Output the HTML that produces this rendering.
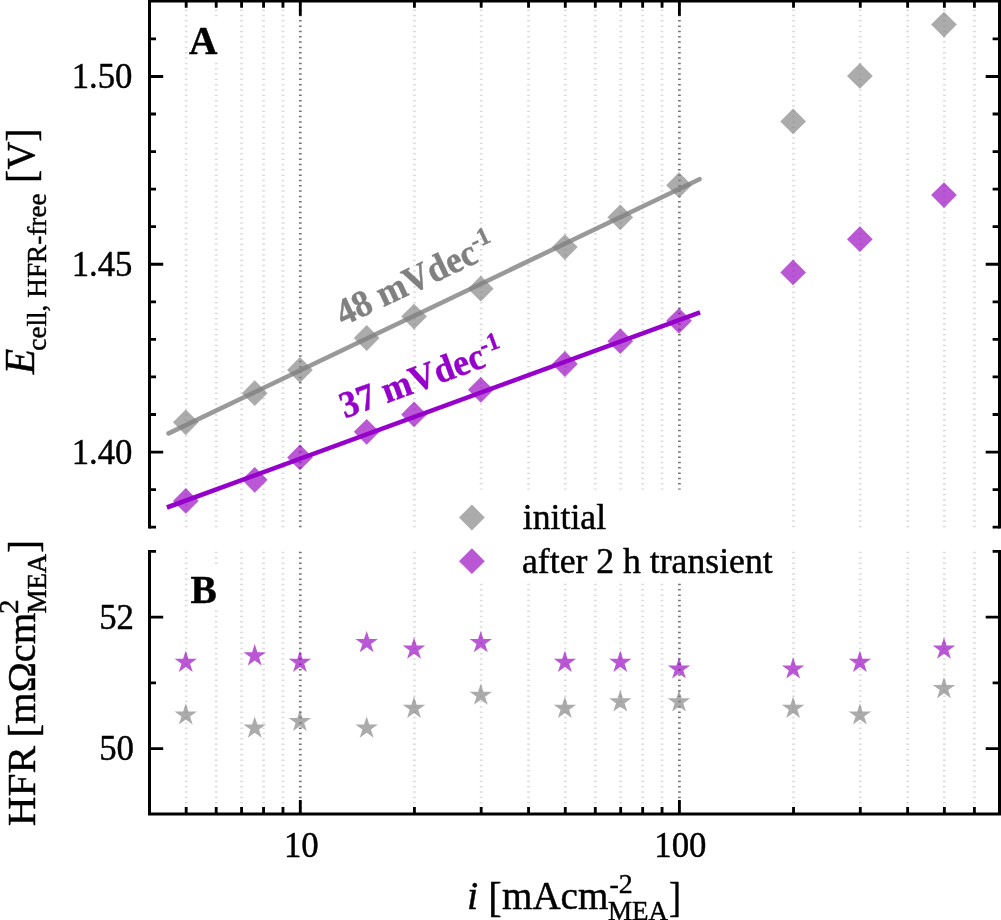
<!DOCTYPE html>
<html lang="en"><head><meta charset="utf-8"><title>Tafel plot</title>
<style>html,body{margin:0;padding:0;background:#fff}body{width:1001px;height:920px;overflow:hidden}svg{display:block}text{font-family:"Liberation Serif","Times New Roman",serif;fill:#000;stroke:#000;stroke-width:0.45px;stroke-linejoin:round}</style></head><body>
<svg width="1001" height="920" viewBox="0 0 1001 920">
<rect x="0" y="0" width="1001" height="920" fill="#fff"/>
<g id="grid">
<line x1="186.18" y1="4.09" x2="186.18" y2="527.66" stroke="#dbdbdb" stroke-width="2.7" stroke-dasharray="1.5 3.822"/>
<line x1="186.18" y1="551.85" x2="186.18" y2="813.05" stroke="#dbdbdb" stroke-width="2.7" stroke-dasharray="1.5 3.822"/>
<line x1="216.20" y1="4.09" x2="216.20" y2="527.66" stroke="#dbdbdb" stroke-width="2.7" stroke-dasharray="1.5 3.822"/>
<line x1="216.20" y1="551.85" x2="216.20" y2="813.05" stroke="#dbdbdb" stroke-width="2.7" stroke-dasharray="1.5 3.822"/>
<line x1="241.58" y1="4.09" x2="241.58" y2="527.66" stroke="#dbdbdb" stroke-width="2.7" stroke-dasharray="1.5 3.822"/>
<line x1="241.58" y1="551.85" x2="241.58" y2="813.05" stroke="#dbdbdb" stroke-width="2.7" stroke-dasharray="1.5 3.822"/>
<line x1="263.56" y1="4.09" x2="263.56" y2="527.66" stroke="#dbdbdb" stroke-width="2.7" stroke-dasharray="1.5 3.822"/>
<line x1="263.56" y1="551.85" x2="263.56" y2="813.05" stroke="#dbdbdb" stroke-width="2.7" stroke-dasharray="1.5 3.822"/>
<line x1="282.95" y1="4.09" x2="282.95" y2="527.66" stroke="#dbdbdb" stroke-width="2.7" stroke-dasharray="1.5 3.822"/>
<line x1="282.95" y1="551.85" x2="282.95" y2="813.05" stroke="#dbdbdb" stroke-width="2.7" stroke-dasharray="1.5 3.822"/>
<line x1="414.42" y1="4.09" x2="414.42" y2="527.66" stroke="#dbdbdb" stroke-width="2.7" stroke-dasharray="1.5 3.822"/>
<line x1="414.42" y1="551.85" x2="414.42" y2="813.05" stroke="#dbdbdb" stroke-width="2.7" stroke-dasharray="1.5 3.822"/>
<line x1="481.18" y1="4.09" x2="481.18" y2="527.66" stroke="#dbdbdb" stroke-width="2.7" stroke-dasharray="1.5 3.822"/>
<line x1="481.18" y1="551.85" x2="481.18" y2="813.05" stroke="#dbdbdb" stroke-width="2.7" stroke-dasharray="1.5 3.822"/>
<line x1="528.54" y1="4.09" x2="528.54" y2="527.66" stroke="#dbdbdb" stroke-width="2.7" stroke-dasharray="1.5 3.822"/>
<line x1="528.54" y1="551.85" x2="528.54" y2="813.05" stroke="#dbdbdb" stroke-width="2.7" stroke-dasharray="1.5 3.822"/>
<line x1="565.28" y1="4.09" x2="565.28" y2="527.66" stroke="#dbdbdb" stroke-width="2.7" stroke-dasharray="1.5 3.822"/>
<line x1="565.28" y1="551.85" x2="565.28" y2="813.05" stroke="#dbdbdb" stroke-width="2.7" stroke-dasharray="1.5 3.822"/>
<line x1="595.30" y1="4.09" x2="595.30" y2="527.66" stroke="#dbdbdb" stroke-width="2.7" stroke-dasharray="1.5 3.822"/>
<line x1="595.30" y1="551.85" x2="595.30" y2="813.05" stroke="#dbdbdb" stroke-width="2.7" stroke-dasharray="1.5 3.822"/>
<line x1="620.68" y1="4.09" x2="620.68" y2="527.66" stroke="#dbdbdb" stroke-width="2.7" stroke-dasharray="1.5 3.822"/>
<line x1="620.68" y1="551.85" x2="620.68" y2="813.05" stroke="#dbdbdb" stroke-width="2.7" stroke-dasharray="1.5 3.822"/>
<line x1="642.66" y1="4.09" x2="642.66" y2="527.66" stroke="#dbdbdb" stroke-width="2.7" stroke-dasharray="1.5 3.822"/>
<line x1="642.66" y1="551.85" x2="642.66" y2="813.05" stroke="#dbdbdb" stroke-width="2.7" stroke-dasharray="1.5 3.822"/>
<line x1="662.05" y1="4.09" x2="662.05" y2="527.66" stroke="#dbdbdb" stroke-width="2.7" stroke-dasharray="1.5 3.822"/>
<line x1="662.05" y1="551.85" x2="662.05" y2="813.05" stroke="#dbdbdb" stroke-width="2.7" stroke-dasharray="1.5 3.822"/>
<line x1="793.52" y1="4.09" x2="793.52" y2="527.66" stroke="#dbdbdb" stroke-width="2.7" stroke-dasharray="1.5 3.822"/>
<line x1="793.52" y1="551.85" x2="793.52" y2="813.05" stroke="#dbdbdb" stroke-width="2.7" stroke-dasharray="1.5 3.822"/>
<line x1="860.28" y1="4.09" x2="860.28" y2="527.66" stroke="#dbdbdb" stroke-width="2.7" stroke-dasharray="1.5 3.822"/>
<line x1="860.28" y1="551.85" x2="860.28" y2="813.05" stroke="#dbdbdb" stroke-width="2.7" stroke-dasharray="1.5 3.822"/>
<line x1="907.64" y1="4.09" x2="907.64" y2="527.66" stroke="#dbdbdb" stroke-width="2.7" stroke-dasharray="1.5 3.822"/>
<line x1="907.64" y1="551.85" x2="907.64" y2="813.05" stroke="#dbdbdb" stroke-width="2.7" stroke-dasharray="1.5 3.822"/>
<line x1="944.38" y1="4.09" x2="944.38" y2="527.66" stroke="#dbdbdb" stroke-width="2.7" stroke-dasharray="1.5 3.822"/>
<line x1="944.38" y1="551.85" x2="944.38" y2="813.05" stroke="#dbdbdb" stroke-width="2.7" stroke-dasharray="1.5 3.822"/>
<line x1="974.40" y1="4.09" x2="974.40" y2="527.66" stroke="#dbdbdb" stroke-width="2.7" stroke-dasharray="1.5 3.822"/>
<line x1="974.40" y1="551.85" x2="974.40" y2="813.05" stroke="#dbdbdb" stroke-width="2.7" stroke-dasharray="1.5 3.822"/>
<line x1="300.30" y1="4.09" x2="300.30" y2="527.66" stroke="#727272" stroke-width="2.7" stroke-dasharray="1.5 3.822"/>
<line x1="300.30" y1="551.85" x2="300.30" y2="813.05" stroke="#727272" stroke-width="2.7" stroke-dasharray="1.5 3.822"/>
<line x1="679.40" y1="4.09" x2="679.40" y2="527.66" stroke="#727272" stroke-width="2.7" stroke-dasharray="1.5 3.822"/>
<line x1="679.40" y1="551.85" x2="679.40" y2="813.05" stroke="#727272" stroke-width="2.7" stroke-dasharray="1.5 3.822"/>
</g>
<rect x="422" y="489.6" width="369" height="91.4" fill="#fff"/>
<rect x="189" y="20" width="30" height="42" fill="#fff"/>
<rect x="189" y="565" width="30" height="44" fill="#fff"/>
<g transform="translate(343.0 326.3) rotate(-25.4)"><text transform="scale(0.95 1)" font-size="37.5" font-weight="bold" style="fill:#808080;stroke:#808080">48 mVdec<tspan dy="-13" font-size="25">-1</tspan></text></g>
<g transform="translate(345.0 418.5) rotate(-20.2)"><text transform="scale(0.95 1)" font-size="37.5" font-weight="bold" style="fill:#9600CB;stroke:#9600CB">37 mVdec<tspan dy="-13" font-size="25">-1</tspan></text></g>
<g id="panelA">
<path d="M185.8 409.4L198.6 422.3L185.8 435.2L172.9 422.3Z" fill="rgba(128,128,128,0.66)"/>
<path d="M254.7 380.3L267.6 393.2L254.7 406.1L241.9 393.2Z" fill="rgba(128,128,128,0.66)"/>
<path d="M299.9 357.1L312.8 370.0L299.9 382.9L287.1 370.0Z" fill="rgba(128,128,128,0.66)"/>
<path d="M366.7 325.1L379.5 338.0L366.7 350.9L353.8 338.0Z" fill="rgba(128,128,128,0.66)"/>
<path d="M414.0 303.8L426.9 316.6L414.0 329.5L401.2 316.6Z" fill="rgba(128,128,128,0.66)"/>
<path d="M480.8 275.8L493.6 288.7L480.8 301.6L467.9 288.7Z" fill="rgba(128,128,128,0.66)"/>
<path d="M564.9 234.2L577.7 247.0L564.9 259.9L552.0 247.0Z" fill="rgba(128,128,128,0.66)"/>
<path d="M620.3 204.5L633.1 217.3L620.3 230.2L607.4 217.3Z" fill="rgba(128,128,128,0.66)"/>
<path d="M679.0 172.3L691.9 185.2L679.0 198.0L666.2 185.2Z" fill="rgba(128,128,128,0.66)"/>
<path d="M793.1 108.6L806.0 121.4L793.1 134.2L780.3 121.4Z" fill="rgba(128,128,128,0.66)"/>
<path d="M859.9 63.1L872.7 76.0L859.9 88.8L847.0 76.0Z" fill="rgba(128,128,128,0.66)"/>
<path d="M944.0 11.7L956.8 24.5L944.0 37.4L931.1 24.5Z" fill="rgba(128,128,128,0.66)"/>
<path d="M185.8 488.0L198.6 500.9L185.8 513.8L172.9 500.9Z" fill="rgba(150,0,192,0.66)"/>
<path d="M254.7 466.9L267.6 479.8L254.7 492.7L241.9 479.8Z" fill="rgba(150,0,192,0.66)"/>
<path d="M299.9 444.5L312.8 457.4L299.9 470.2L287.1 457.4Z" fill="rgba(150,0,192,0.66)"/>
<path d="M366.7 418.9L379.5 431.8L366.7 444.7L353.8 431.8Z" fill="rgba(150,0,192,0.66)"/>
<path d="M414.0 401.5L426.9 414.4L414.0 427.2L401.2 414.4Z" fill="rgba(150,0,192,0.66)"/>
<path d="M480.8 376.9L493.6 389.8L480.8 402.7L467.9 389.8Z" fill="rgba(150,0,192,0.66)"/>
<path d="M564.9 351.1L577.7 364.0L564.9 376.9L552.0 364.0Z" fill="rgba(150,0,192,0.66)"/>
<path d="M620.3 328.3L633.1 341.2L620.3 354.1L607.4 341.2Z" fill="rgba(150,0,192,0.66)"/>
<path d="M679.0 307.9L691.9 320.8L679.0 333.7L666.2 320.8Z" fill="rgba(150,0,192,0.66)"/>
<path d="M793.1 259.5L806.0 272.4L793.1 285.2L780.3 272.4Z" fill="rgba(150,0,192,0.66)"/>
<path d="M859.9 226.3L872.7 239.2L859.9 252.0L847.0 239.2Z" fill="rgba(150,0,192,0.66)"/>
<path d="M944.0 182.2L956.8 195.1L944.0 207.9L931.1 195.1Z" fill="rgba(150,0,192,0.66)"/>
<line x1="168.6" y1="433.4" x2="699.5" y2="179.2" stroke="rgba(128,128,128,0.8)" stroke-width="4.6" stroke-linecap="round"/>
<line x1="166.9" y1="507.5" x2="700.1" y2="312.3" stroke="#9600CB" stroke-width="4.6"/>
</g>
<g id="panelB">
<polygon points="185.8,703.2 188.4,711.4 197.0,711.4 190.1,716.4 192.7,724.6 185.8,719.5 178.8,724.6 181.5,716.4 174.6,711.4 183.1,711.4" fill="rgba(128,128,128,0.66)"/>
<polygon points="254.7,716.4 257.4,724.5 265.9,724.5 259.0,729.6 261.7,737.7 254.7,732.7 247.8,737.7 250.4,729.6 243.5,724.5 252.1,724.5" fill="rgba(128,128,128,0.66)"/>
<polygon points="299.9,709.8 302.5,718.0 311.1,718.0 304.2,723.0 306.8,731.1 299.9,726.1 293.0,731.1 295.6,723.0 288.7,718.0 297.3,718.0" fill="rgba(128,128,128,0.66)"/>
<polygon points="366.7,716.4 369.3,724.5 377.9,724.5 370.9,729.6 373.6,737.7 366.7,732.7 359.7,737.7 362.4,729.6 355.4,724.5 364.0,724.5" fill="rgba(128,128,128,0.66)"/>
<polygon points="414.0,696.6 416.7,704.8 425.2,704.8 418.3,709.8 421.0,718.0 414.0,713.0 407.1,718.0 409.7,709.8 402.8,704.8 411.4,704.8" fill="rgba(128,128,128,0.66)"/>
<polygon points="480.8,683.5 483.4,691.7 492.0,691.7 485.1,696.7 487.7,704.8 480.8,699.8 473.8,704.8 476.5,696.7 469.6,691.7 478.1,691.7" fill="rgba(128,128,128,0.66)"/>
<polygon points="564.9,696.6 567.5,704.8 576.1,704.8 569.2,709.8 571.8,718.0 564.9,713.0 557.9,718.0 560.6,709.8 553.7,704.8 562.2,704.8" fill="rgba(128,128,128,0.66)"/>
<polygon points="620.3,690.1 622.9,698.2 631.5,698.2 624.6,703.3 627.2,711.4 620.3,706.4 613.3,711.4 616.0,703.3 609.1,698.2 617.6,698.2" fill="rgba(128,128,128,0.66)"/>
<polygon points="679.0,690.1 681.6,698.2 690.2,698.2 683.3,703.3 685.9,711.4 679.0,706.4 672.1,711.4 674.7,703.3 667.8,698.2 676.4,698.2" fill="rgba(128,128,128,0.66)"/>
<polygon points="793.1,696.6 795.8,704.8 804.3,704.8 797.4,709.8 800.1,718.0 793.1,713.0 786.2,718.0 788.8,709.8 781.9,704.8 790.5,704.8" fill="rgba(128,128,128,0.66)"/>
<polygon points="859.9,703.2 862.5,711.4 871.1,711.4 864.2,716.4 866.8,724.6 859.9,719.5 852.9,724.6 855.6,716.4 848.7,711.4 857.2,711.4" fill="rgba(128,128,128,0.66)"/>
<polygon points="944.0,676.9 946.6,685.1 955.2,685.1 948.3,690.1 950.9,698.3 944.0,693.2 937.0,698.3 939.7,690.1 932.8,685.1 941.3,685.1" fill="rgba(128,128,128,0.66)"/>
<polygon points="185.8,650.6 188.4,658.8 197.0,658.8 190.1,663.8 192.7,672.0 185.8,666.9 178.8,672.0 181.5,663.8 174.6,658.8 183.1,658.8" fill="rgba(150,0,192,0.66)"/>
<polygon points="254.7,644.1 257.4,652.2 265.9,652.2 259.0,657.2 261.7,665.4 254.7,660.4 247.8,665.4 250.4,657.2 243.5,652.2 252.1,652.2" fill="rgba(150,0,192,0.66)"/>
<polygon points="299.9,650.6 302.5,658.8 311.1,658.8 304.2,663.8 306.8,672.0 299.9,666.9 293.0,672.0 295.6,663.8 288.7,658.8 297.3,658.8" fill="rgba(150,0,192,0.66)"/>
<polygon points="366.7,630.9 369.3,639.1 377.9,639.1 370.9,644.1 373.6,652.2 366.7,647.2 359.7,652.2 362.4,644.1 355.4,639.1 364.0,639.1" fill="rgba(150,0,192,0.66)"/>
<polygon points="414.0,637.5 416.7,645.6 425.2,645.6 418.3,650.7 421.0,658.8 414.0,653.8 407.1,658.8 409.7,650.7 402.8,645.6 411.4,645.6" fill="rgba(150,0,192,0.66)"/>
<polygon points="480.8,630.9 483.4,639.1 492.0,639.1 485.1,644.1 487.7,652.2 480.8,647.2 473.8,652.2 476.5,644.1 469.6,639.1 478.1,639.1" fill="rgba(150,0,192,0.66)"/>
<polygon points="564.9,650.6 567.5,658.8 576.1,658.8 569.2,663.8 571.8,672.0 564.9,666.9 557.9,672.0 560.6,663.8 553.7,658.8 562.2,658.8" fill="rgba(150,0,192,0.66)"/>
<polygon points="620.3,650.6 622.9,658.8 631.5,658.8 624.6,663.8 627.2,672.0 620.3,666.9 613.3,672.0 616.0,663.8 609.1,658.8 617.6,658.8" fill="rgba(150,0,192,0.66)"/>
<polygon points="679.0,657.2 681.6,665.4 690.2,665.4 683.3,670.4 685.9,678.5 679.0,673.5 672.1,678.5 674.7,670.4 667.8,665.4 676.4,665.4" fill="rgba(150,0,192,0.66)"/>
<polygon points="793.1,657.2 795.8,665.4 804.3,665.4 797.4,670.4 800.1,678.5 793.1,673.5 786.2,678.5 788.8,670.4 781.9,665.4 790.5,665.4" fill="rgba(150,0,192,0.66)"/>
<polygon points="859.9,650.6 862.5,658.8 871.1,658.8 864.2,663.8 866.8,672.0 859.9,666.9 852.9,672.0 855.6,663.8 848.7,658.8 857.2,658.8" fill="rgba(150,0,192,0.66)"/>
<polygon points="944.0,637.5 946.6,645.6 955.2,645.6 948.3,650.7 950.9,658.8 944.0,653.8 937.0,658.8 939.7,650.7 932.8,645.6 941.3,645.6" fill="rgba(150,0,192,0.66)"/>
</g>
<g id="axes" stroke="#000" fill="none" stroke-linecap="butt">
<path d="M149.5 528.58V1.1H999.5V528.58" stroke-width="3.0" stroke-linejoin="miter"/>
<path d="M149.5 549.93V814.05H999.5V549.93" stroke-width="3.0" stroke-linejoin="miter"/>
<path d="M186.18 1.1v6.7M186.18 814.05v-7.05M216.20 1.1v6.7M216.20 814.05v-7.05M241.58 1.1v6.7M241.58 814.05v-7.05M263.56 1.1v6.7M263.56 814.05v-7.05M282.95 1.1v6.7M282.95 814.05v-7.05M414.42 1.1v6.7M414.42 814.05v-7.05M481.18 1.1v6.7M481.18 814.05v-7.05M528.54 1.1v6.7M528.54 814.05v-7.05M565.28 1.1v6.7M565.28 814.05v-7.05M595.30 1.1v6.7M595.30 814.05v-7.05M620.68 1.1v6.7M620.68 814.05v-7.05M642.66 1.1v6.7M642.66 814.05v-7.05M662.05 1.1v6.7M662.05 814.05v-7.05M793.52 1.1v6.7M793.52 814.05v-7.05M860.28 1.1v6.7M860.28 814.05v-7.05M907.64 1.1v6.7M907.64 814.05v-7.05M944.38 1.1v6.7M944.38 814.05v-7.05M974.40 1.1v6.7M974.40 814.05v-7.05M300.30 1.1v14.6M300.30 814.05v-14.05M679.40 1.1v14.6M679.40 814.05v-14.05M149.5 527.17h6.5M999.5 527.17h-6.9M149.5 489.61h6.5M999.5 489.61h-6.9M149.5 452.05h13.7M999.5 452.05h-13.8M149.5 414.49h6.5M999.5 414.49h-6.9M149.5 376.93h6.5M999.5 376.93h-6.9M149.5 339.37h6.5M999.5 339.37h-6.9M149.5 301.81h6.5M999.5 301.81h-6.9M149.5 264.25h13.7M999.5 264.25h-13.8M149.5 226.69h6.5M999.5 226.69h-6.9M149.5 189.13h6.5M999.5 189.13h-6.9M149.5 151.57h6.5M999.5 151.57h-6.9M149.5 114.01h6.5M999.5 114.01h-6.9M149.5 76.45h13.7M999.5 76.45h-13.8M149.5 38.89h6.5M999.5 38.89h-6.9M149.5 748.60h13.7M999.5 748.60h-13.8M149.5 682.85h6.5M999.5 682.85h-6.9M149.5 617.10h13.7M999.5 617.10h-13.8M149.5 551.35h6.5M999.5 551.35h-6.9" stroke-width="2.85"/>
</g>
<text transform="translate(132.5 88.0) scale(0.95 1)" font-size="36.6" text-anchor="end" >1.50</text>
<text transform="translate(132.5 275.8) scale(0.95 1)" font-size="36.6" text-anchor="end" >1.45</text>
<text transform="translate(132.5 463.6) scale(0.95 1)" font-size="36.6" text-anchor="end" >1.40</text>
<text transform="translate(134.0 628.5) scale(0.95 1)" font-size="36.6" text-anchor="end" >52</text>
<text transform="translate(134.0 760.0) scale(0.95 1)" font-size="36.6" text-anchor="end" >50</text>
<text transform="translate(301.3 856.9) scale(0.95 1)" font-size="36.6" text-anchor="middle" >10</text>
<text transform="translate(680.4 856.9) scale(0.95 1)" font-size="36.6" text-anchor="middle" >100</text>
<text transform="translate(189 54.3) scale(0.96 1)" font-size="41" text-anchor="start" font-weight="bold">A</text>
<text transform="translate(190.5 602.6) scale(0.96 1)" font-size="41" text-anchor="start" font-weight="bold">B</text>
<path d="M471.9 504.6L484.8 517.5L471.9 530.4L459.0 517.5Z" fill="rgba(128,128,128,0.66)"/>
<path d="M471.9 548.3L484.8 561.2L471.9 574.1L459.0 561.2Z" fill="rgba(150,0,192,0.66)"/>
<text transform="translate(522.8 528.8)" font-size="35.7" text-anchor="start" >initial</text>
<text transform="translate(522.0 573.3)" font-size="35.7" text-anchor="start" >after 2 h transient</text>
<text transform="translate(33.5 374.3) rotate(-90)" font-size="41.5" text-anchor="start" font-style="italic">E</text>
<text transform="translate(45.6 350.7) rotate(-90) scale(0.973 1)" font-size="28" text-anchor="start" >cell, HFR-free</text>
<text transform="translate(35.1 183.0) rotate(-90) scale(0.953 1)" font-size="41.5" text-anchor="start" >[</text>
<text transform="translate(33.5 169.6) rotate(-90) scale(0.953 1)" font-size="40.6" text-anchor="start" >V</text>
<text transform="translate(35.1 141.7) rotate(-90) scale(0.953 1)" font-size="41.5" text-anchor="start" >]</text>
<text transform="translate(35.3 826.3) rotate(-90) scale(1.017 1)" font-size="40.6" text-anchor="start" >HFR</text>
<text transform="translate(36.9 737.6) rotate(-90)" font-size="41.5" text-anchor="start" >[</text>
<text transform="translate(35.3 723.9) rotate(-90)" font-size="40.6" text-anchor="start" >mΩcm</text>
<text transform="translate(18.3 613.9) rotate(-90) scale(1.08 1)" font-size="27" text-anchor="start" >2</text>
<text transform="translate(45.7 613.3) rotate(-90) scale(0.957 1)" font-size="28" text-anchor="start" >MEA</text>
<text transform="translate(36.9 553.1) rotate(-90) scale(0.94 1)" font-size="41.5" text-anchor="start" >]</text>
<text transform="translate(467.0 909.4)" font-size="40.3" text-anchor="start" font-style="italic">i</text>
<text transform="translate(488.3 911.0) scale(0.97 1)" font-size="41.5" text-anchor="start" >[</text>
<text transform="translate(502.0 909.4) scale(0.97 1)" font-size="40.3" text-anchor="start" >mAcm</text>
<text transform="translate(609.6 893.0) scale(1.05 1)" font-size="26.5" text-anchor="start" >-2</text>
<text transform="translate(608.0 920.1) scale(0.965 1)" font-size="28" text-anchor="start" >MEA</text>
<text transform="translate(669.0 911.0) scale(0.87 1)" font-size="41.5" text-anchor="start" >]</text>
</svg></body></html>
